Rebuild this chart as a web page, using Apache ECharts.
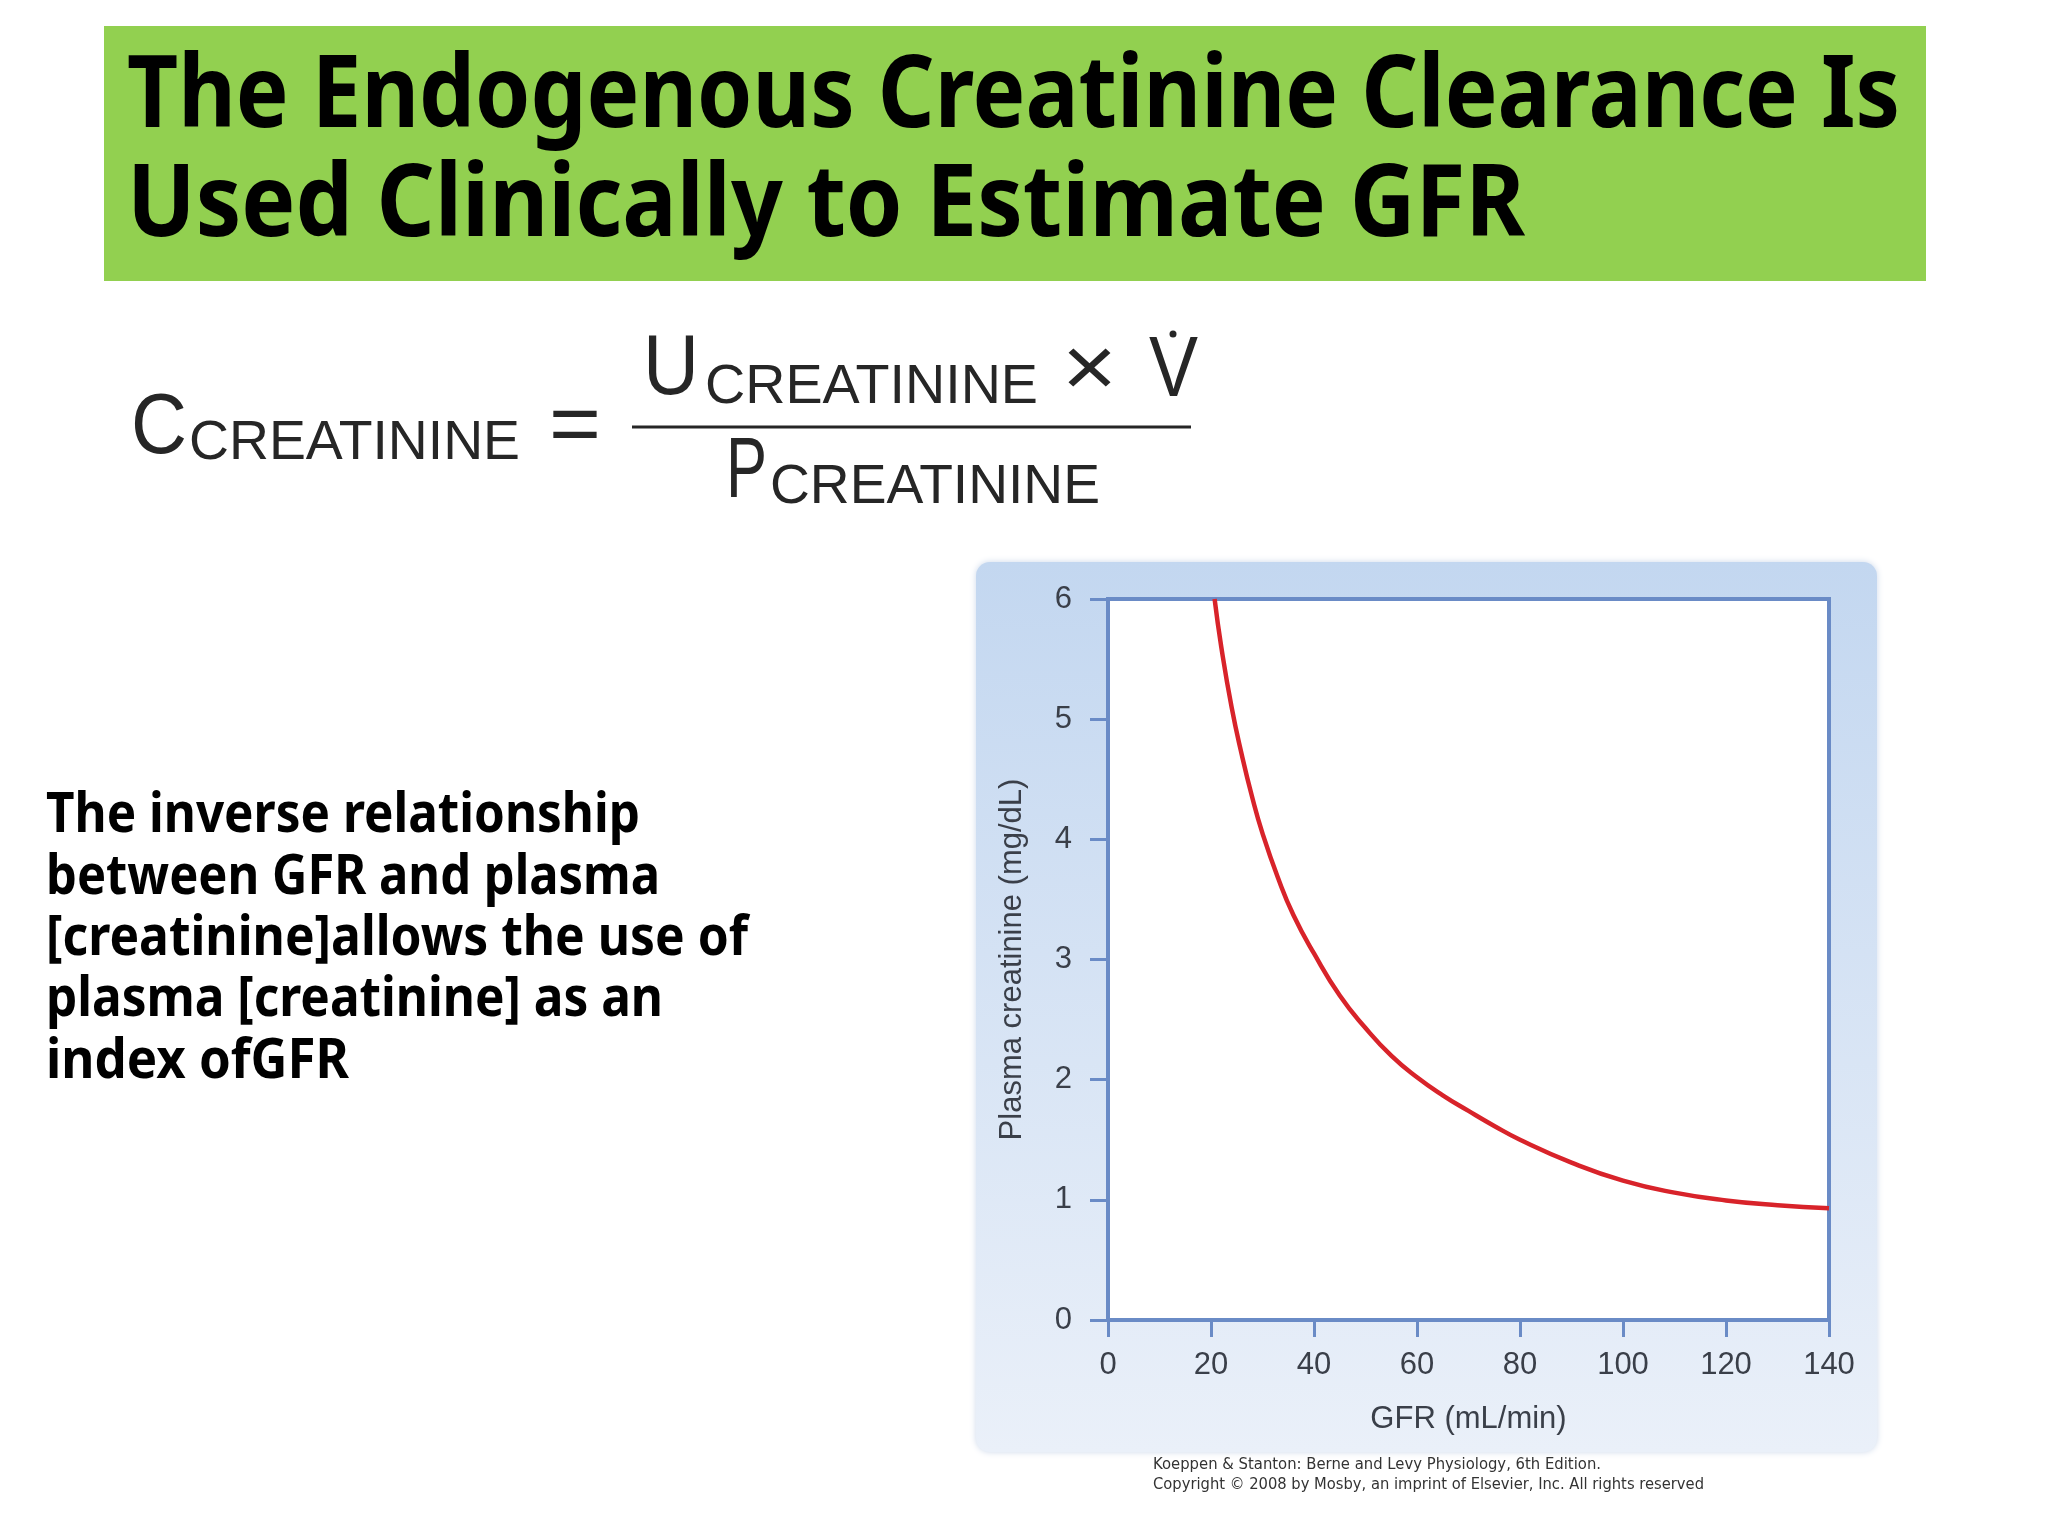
<!DOCTYPE html>
<html><head><meta charset="utf-8">
<script src="https://cdn.jsdelivr.net/npm/echarts@6/dist/echarts.min.js"></script>
<style>html,body{margin:0;padding:0;background:#fff}#c{width:2048px;height:1536px}</style>
</head><body><div id="c"></div>
<script>
// ---- data ----
const gfr        = [20.7, 22, 24, 26, 28, 30, 33, 36, 40, 45, 50, 55, 60, 65, 70, 75, 80, 90, 100, 110, 120, 130, 140];
const creatinine = [6.0, 5.6, 5.1, 4.7, 4.35, 4.05, 3.68, 3.37, 3.05, 2.7, 2.43, 2.2, 2.02, 1.87, 1.74, 1.615, 1.5, 1.31, 1.16, 1.06, 0.995, 0.955, 0.93];
const xRange = [0, 140, 20];   // min, max, interval
const yRange = [0, 6, 1];
const xName = 'GFR (mL/min)';
const yName = 'Plasma creatinine (mg/dL)';
const titleLines = ['The Endogenous Creatinine Clearance Is', 'Used Clinically to Estimate GFR'];
const noteLines = ['The inverse relationship', 'between GFR and plasma', '[creatinine]allows the use of', 'plasma [creatinine] as an', 'index ofGFR'];
const footerLines = ['Koeppen & Stanton: Berne and Levy Physiology, 6th Edition.', 'Copyright \u00A9 2008 by Mosby, an imprint of Elsevier, Inc. All rights reserved'];
const formulaSub = 'CREATININE';

// ---- helpers ----
const mctx = document.createElement('canvas').getContext('2d');
function measure(text, font) { mctx.font = font; return mctx.measureText(text).width; }
function fitText(text, font, x, cy, width, fill) {
  const s = width / measure(text, font);
  return { type: 'text', x: x, y: cy, scaleX: s, z: 10,
    style: { text: text, font: font, fill: fill, align: 'left', verticalAlign: 'middle', textAlign: 'left', textVerticalAlign: 'middle' } };
}

const titleFont = 'bold 100px "Noto Sans"';
const noteFont = 'bold 55px "Noto Sans"';
const fBig = '86px "Liberation Sans"';
const fSub = '56px "Liberation Sans"';
const footFont = '16px "DejaVu Sans"';
const ink = '#262626';

const graphics = [
  { type: 'rect', z: -1, shape: { x: 104, y: 26, width: 1822, height: 255 }, style: { fill: '#92d050' } },
  { type: 'rect', z: -1, shape: { x: 976, y: 562, width: 901, height: 890, r: 14 },
    style: { fill: { type: 'linear', x: 0, y: 0, x2: 0, y2: 1, colorStops: [{ offset: 0, color: '#c3d7f0' }, { offset: 1, color: '#eaf0f9' }] },
      shadowBlur: 6, shadowColor: 'rgba(170,190,220,0.6)' } },
  fitText(titleLines[0], titleFont, 127, 99, 1773, '#000'),
  fitText(titleLines[1], titleFont, 127, 208, 1398, '#000'),
  // formula
  fitText('C', fBig, 131, 429, 56, ink),
  fitText(formulaSub, fSub, 189, 444, 331, ink),
  fitText('=', fBig, 549, 428, 52, ink),
  { type: 'line', z: 10, shape: { x1: 632, y1: 427, x2: 1191, y2: 427 }, style: { stroke: ink, lineWidth: 3 } },
  fitText('U', fBig, 643, 370, 56, ink),
  fitText(formulaSub, fSub, 705, 388, 333, ink),
  fitText('\u00D7', fBig, 1062, 372, 55, ink),
  fitText('V', fBig, 1149, 372, 49, ink),
  { type: 'circle', z: 10, shape: { cx: 1173, cy: 334, r: 3.5 }, style: { fill: ink } },
  fitText('P', fBig, 726, 473, 41, ink),
  fitText(formulaSub, fSub, 770, 488, 330, ink)
];
const noteWidths = [594, 614, 702, 617, 303];
const noteY = [816, 878, 939, 1000, 1062];
noteLines.forEach((t, i) => graphics.push(fitText(t, noteFont, 46, noteY[i], noteWidths[i], '#000')));
graphics.push(fitText(footerLines[0], footFont, 1153, 1465, 448, '#333'));
graphics.push(fitText(footerLines[1], footFont, 1153, 1485, 551, '#333'));

const axisBlue = '#6a8bc6';
const labelStyle = { color: '#3a3f49', fontSize: 31, fontFamily: '"Liberation Sans", Arial, sans-serif' };

const chart = echarts.init(document.getElementById('c'), null, { renderer: 'canvas' });
chart.setOption({
  animation: false,
  backgroundColor: '#ffffff',
  graphic: graphics,
  grid: { left: 1108, top: 599, width: 721, height: 721, show: true, backgroundColor: '#ffffff', borderColor: axisBlue, borderWidth: 4 },
  xAxis: {
    type: 'value', min: xRange[0], max: xRange[1], interval: xRange[2],
    name: xName, nameLocation: 'middle', nameGap: 84,
    nameTextStyle: { color: '#3a3f49', fontSize: 31, fontFamily: '"Liberation Sans", Arial, sans-serif' },
    axisLine: { show: true, lineStyle: { color: axisBlue, width: 4 } },
    axisTick: { show: true, length: 17, lineStyle: { color: axisBlue, width: 3 } },
    axisLabel: Object.assign({ margin: 30 }, labelStyle),
    splitLine: { show: false }
  },
  yAxis: {
    type: 'value', min: yRange[0], max: yRange[1], interval: yRange[2],
    name: yName, nameLocation: 'middle', nameGap: 80, nameRotate: 90,
    nameTextStyle: { color: '#3a3f49', fontSize: 31, fontFamily: '"Liberation Sans", Arial, sans-serif' },
    axisLine: { show: true, lineStyle: { color: axisBlue, width: 4 } },
    axisTick: { show: true, length: 18, lineStyle: { color: axisBlue, width: 3 } },
    axisLabel: Object.assign({ margin: 36 }, labelStyle),
    splitLine: { show: false }
  },
  series: [{
    type: 'line', data: gfr.map((x, i) => [x, creatinine[i]]),
    smooth: 0.5, showSymbol: false, silent: true,
    lineStyle: { color: '#d8232a', width: 4.5 }
  }]
});
</script></body></html>
